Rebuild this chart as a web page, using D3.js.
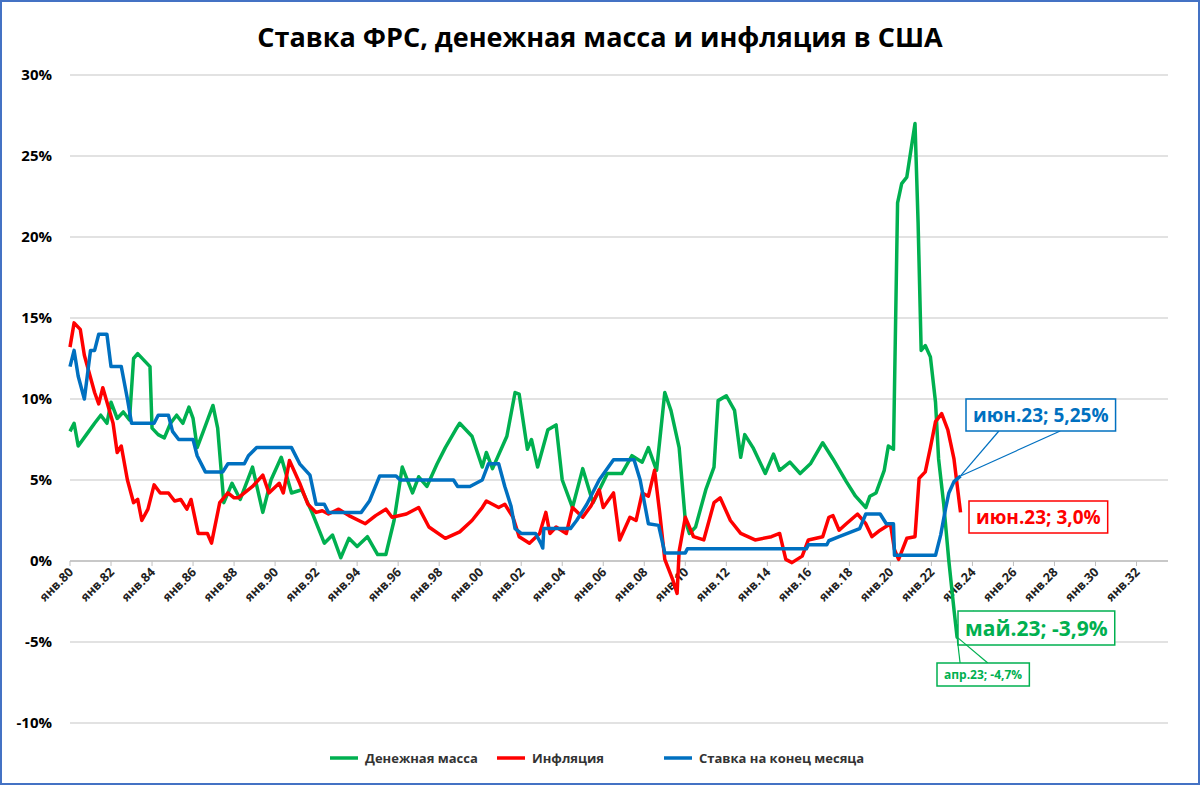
<!DOCTYPE html>
<html><head><meta charset="utf-8">
<script src="https://cdn.jsdelivr.net/npm/d3@7"></script>
<style>body{margin:0;background:#fff;font-family:"Open Sans",Roboto,sans-serif}</style>
</head><body><svg id="c" width="1200" height="785"></svg>
<script>
// Денежная масса (M2, % г/г): [год, значение]
const moneyT=[1980.0,1980.2,1980.4,1980.8,1981.2,1981.5,1981.8,1982.0,1982.3,1982.6,1982.9,1983.1,1983.3,1983.6,1983.9,1984.0,1984.3,1984.6,1984.9,1985.2,1985.5,1985.8,1986.0,1986.2,1986.5,1986.97,1987.2,1987.5,1987.9,1988.3,1988.9,1989.4,1989.8,1990.3,1990.8,1991.3,1991.8,1992.4,1992.8,1993.2,1993.6,1994.0,1994.5,1995.0,1995.4,1995.8,1996.2,1996.7,1997.0,1997.4,1997.9,1998.3,1998.8,1999.0,1999.6,2000.1,2000.3,2000.6,2001.3,2001.7,2001.9,2002.3,2002.5,2002.8,2003.3,2003.7,2004.0,2004.5,2005.0,2005.5,2006.2,2006.9,2007.4,2007.9,2008.2,2008.6,2009.0,2009.3,2009.7,2010.0,2010.2,2010.5,2011.0,2011.4,2011.6,2012.0,2012.4,2012.7,2012.9,2013.3,2013.9,2014.3,2014.6,2015.1,2015.6,2016.1,2016.7,2017.2,2017.85,2018.3,2018.8,2019.0,2019.3,2019.7,2019.9,2020.15,2020.35,2020.55,2020.8,2021.2,2021.35,2021.5,2021.7,2021.95,2022.2,2022.35,2022.6,2022.85,2023.1,2023.25,2023.33];
const moneyV=[8.0,8.5,7.1,7.8,8.5,9.0,8.5,9.8,8.8,9.2,8.7,12.5,12.8,12.4,12.0,8.2,7.8,7.6,8.5,9.0,8.5,9.5,8.8,7.0,8.0,9.6,8.2,3.6,4.8,3.8,5.8,3.0,5.0,6.4,4.2,4.4,3.0,1.1,1.6,0.2,1.4,0.9,1.5,0.4,0.4,2.5,5.8,4.2,5.2,4.6,6.0,7.0,8.1,8.5,7.7,5.8,6.7,5.7,7.7,10.4,10.3,6.9,7.5,5.8,8.1,8.4,5.0,3.3,5.7,3.6,5.4,5.4,6.5,6.1,7.0,5.6,10.4,9.3,7.0,2.5,1.7,2.1,4.4,5.8,9.9,10.2,9.3,6.4,7.8,7.0,5.4,6.6,5.6,6.1,5.4,6.0,7.3,6.3,4.9,4.0,3.3,4.0,4.2,5.6,7.1,6.9,22.1,23.3,23.7,27.0,20.9,13.0,13.3,12.6,9.8,6.3,3.5,0.0,-3.0,-4.7,-3.9];
// Инфляция (CPI, % г/г)
const inflT=[1980.0,1980.2,1980.5,1980.7,1981.2,1981.4,1981.6,1982.1,1982.3,1982.5,1982.8,1983.1,1983.3,1983.5,1983.8,1984.1,1984.4,1984.8,1985.1,1985.4,1985.7,1985.9,1986.25,1986.7,1986.9,1987.3,1987.7,1988.0,1988.2,1988.9,1989.4,1989.7,1990.2,1990.4,1990.7,1991.2,1991.6,1992.0,1992.3,1992.6,1993.1,1993.6,1994.4,1994.9,1995.4,1995.7,1996.4,1997.0,1997.5,1998.3,1999.0,1999.6,2000.1,2000.3,2000.9,2001.2,2001.6,2001.9,2002.4,2002.9,2003.2,2003.4,2003.7,2004.2,2004.5,2005.0,2005.4,2005.8,2006.0,2006.5,2006.8,2007.3,2007.6,2007.9,2008.2,2008.5,2008.75,2009.0,2009.4,2009.6,2009.7,2010.0,2010.4,2010.9,2011.4,2011.7,2012.2,2012.7,2013.4,2014.2,2014.6,2014.9,2015.2,2015.7,2016.0,2016.7,2017.0,2017.2,2017.5,2017.85,2018.4,2018.8,2019.1,2019.5,2020.0,2020.2,2020.4,2020.8,2021.2,2021.4,2021.7,2021.95,2022.2,2022.5,2022.8,2023.1,2023.35,2023.42];
const inflV=[13.2,14.7,14.3,12.7,10.4,9.7,10.7,8.5,6.7,7.1,5.0,3.6,3.8,2.5,3.2,4.7,4.2,4.2,3.7,3.8,3.2,3.8,1.7,1.7,1.1,3.6,4.2,3.9,3.9,4.6,5.3,4.2,4.8,4.2,6.2,4.8,3.5,3.0,3.1,2.9,3.2,2.8,2.3,2.8,3.2,2.7,2.9,3.3,2.1,1.4,1.8,2.5,3.3,3.7,3.3,3.5,2.7,1.5,1.1,1.7,3.0,1.7,2.1,1.7,3.3,2.7,3.4,4.4,3.3,4.2,1.3,2.7,2.5,4.2,4.0,5.6,3.0,0.1,-1.2,-2.0,0.6,2.7,1.5,1.3,3.6,3.9,2.5,1.7,1.3,1.5,1.7,0.1,-0.1,0.3,1.3,1.5,2.7,2.8,1.9,2.3,2.9,2.3,1.5,1.9,2.3,0.7,0.1,1.4,1.5,5.1,5.5,7.0,8.6,9.1,8.1,6.3,3.7,3.0];
// Ставка ФРС на конец месяца, %
const rateT=[1980.0,1980.2,1980.4,1980.7,1981.0,1981.2,1981.4,1981.8,1982.0,1982.5,1982.8,1983.0,1984.1,1984.3,1984.8,1985.0,1985.3,1986.0,1986.2,1986.6,1987.45,1987.7,1988.5,1988.7,1989.1,1990.8,1991.2,1991.7,1992.0,1992.4,1992.6,1994.2,1994.6,1995.1,1995.9,1996.1,1998.7,1998.9,1999.5,2000.1,2000.4,2000.9,2001.2,2001.5,2001.7,2002.0,2002.7,2002.95,2003.05,2003.1,2004.4,2004.7,2005.2,2005.8,2006.5,2007.5,2007.8,2008.2,2008.7,2009.0,2010.0,2010.1,2015.9,2016.0,2016.9,2017.0,2017.5,2018.0,2018.5,2018.8,2019.5,2019.8,2020.15,2020.2,2022.2,2022.45,2022.7,2022.85,2023.1,2023.42];
const rateV=[12.0,13.0,11.4,10.0,13.0,13.0,14.0,14.0,12.0,12.0,10.0,8.5,8.5,9.0,9.0,8.0,7.5,7.5,6.5,5.5,5.5,6.0,6.0,6.5,7.0,7.0,6.0,5.3,3.5,3.5,3.0,3.0,3.7,5.25,5.25,5.0,5.0,4.6,4.6,5.0,6.0,6.0,4.6,3.4,2.0,1.7,1.7,1.1,0.8,2.0,2.0,2.5,3.5,5.0,6.25,6.25,5.0,2.3,2.2,0.5,0.5,0.75,0.75,1.0,1.0,1.25,1.5,1.75,2.0,2.9,2.9,2.3,2.3,0.35,0.35,1.6,3.3,4.2,4.9,5.25];
const yTicks=[-10,-5,0,5,10,15,20,25,30];
const xTicks=d3.range(1980,2033,2);

const svg=d3.select("#c");
svg.append("rect").attr("x",1).attr("y",1).attr("width",1198).attr("height",783).attr("fill","#fff").attr("stroke","#4472c4").attr("stroke-width",2);
svg.append("text").attr("x",600).attr("y",47).attr("text-anchor","middle").attr("font-size",27).attr("font-weight","bold").attr("fill","#000").text("Ставка ФРС, денежная масса и инфляция в США");
const x=d3.scaleLinear().domain([1980,1980+1098/20.51]).range([70,1168]);
const y=d3.scaleLinear().domain([-10,30]).range([723,75]);
yTicks.forEach(t=>{
  svg.append("line").attr("x1",70).attr("x2",1168).attr("y1",y(t)).attr("y2",y(t)).attr("stroke","#d9d9d9").attr("stroke-width",1.3);
  svg.append("text").attr("x",52).attr("y",y(t)+5).attr("text-anchor","end").attr("font-size",15).attr("font-weight","bold").text(t+"%");
});
svg.append("line").attr("x1",70).attr("x2",1168).attr("y1",y(0)).attr("y2",y(0)).attr("stroke","#bfbfbf").attr("stroke-width",1.3);
xTicks.forEach(t=>{
  svg.append("line").attr("x1",x(t)).attr("x2",x(t)).attr("y1",y(0)).attr("y2",y(0)+5).attr("stroke","#bfbfbf");
  svg.append("text").attr("transform",`translate(${x(t)+4},${y(0)+12}) rotate(-45)`).attr("text-anchor","end").attr("font-size",12.5).attr("font-weight","bold").attr("fill","#222").text("янв."+String(t%100).padStart(2,"0"));
});
const line=d3.line().x(d=>x(d[0])).y(d=>y(d[1]));
function draw(T,V,c){svg.append("path").datum(T.map((t,i)=>[t,V[i]])).attr("d",line).attr("fill","none").attr("stroke",c).attr("stroke-width",3.5).attr("stroke-linejoin","round");}
draw(moneyT,moneyV,"#00b050");draw(inflT,inflV,"#ff0000");draw(rateT,rateV,"#0070c0");

function label(txt,px,py,bx,by,fs,c,leaders){
  const g=svg.append("g");
  const t=g.append("text").attr("x",bx).attr("y",by).attr("font-size",fs).attr("font-weight","bold").attr("fill",c).text(txt);
  const b=t.node().getBBox();
  leaders.forEach(l=>g.insert("line","text").attr("x1",x(px)).attr("y1",y(py)).attr("x2",bx+l[0]*(b.width+14)-7).attr("y2",l[1]?b.y+b.height+3:b.y-3).attr("stroke",c).attr("stroke-width",1.2));
  g.insert("rect","text").attr("x",b.x-7).attr("y",b.y-3).attr("width",b.width+14).attr("height",b.height+6).attr("fill","#fff").attr("stroke",c).attr("stroke-width",1.5);
}
const last=a=>a[a.length-1];
label("июн.23; 5,25%",last(rateT),last(rateV),973,422,19,"#0070c0",[[0.22,1],[0.63,1]]);
label("июн.23; 3,0%",last(inflT),last(inflV),976,524,19,"#ff0000",[]);
label("май.23; -3,9%",last(moneyT),last(moneyV),965,636,21,"#00b050",[[0.1,0]]);
label("апр.23; -4,7%",moneyT[moneyT.length-2],moneyV[moneyV.length-2],944,679,12,"#00b050",[[0.25,0],[0.55,0]]);

const leg=[["Денежная масса","#00b050",330],["Инфляция","#ff0000",497],["Ставка на конец месяца","#0070c0",664]];
leg.forEach(l=>{
  svg.append("line").attr("x1",l[2]).attr("x2",l[2]+28).attr("y1",758).attr("y2",758).attr("stroke",l[1]).attr("stroke-width",3.5);
  svg.append("text").attr("x",l[2]+35).attr("y",763).attr("font-size",13).attr("font-weight","bold").attr("fill","#333").text(l[0]);
});
</script></body></html>
